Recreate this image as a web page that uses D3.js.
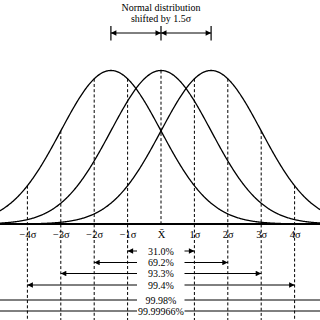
<!DOCTYPE html>
<html>
<head>
<meta charset="utf-8">
<script src="https://cdn.jsdelivr.net/npm/d3@7"></script>
<style>
html,body{margin:0;padding:0;background:#fff;}
svg{display:block;}
text{font-family:"Liberation Serif","DejaVu Serif",serif;fill:#000;}
</style>
</head>
<body>
<svg id="chart" width="320" height="320"></svg>
<script>
// ---- data ----
const means = [-1.5, 0, 1.5];          // centres of the three distributions (in σ)
const curveSigma = 1.5;                  // spread of each drawn curve (in σ units of the axis)
const tickValues = [-4, -3, -2, -1, 0, 1, 2, 3, 4];
const tickLabels = ["\u22124\u03c3", "\u22123\u03c3", "\u22122\u03c3", "\u22121\u03c3", "X\u0304", "1\u03c3", "2\u03c3", "3\u03c3", "4\u03c3"];
const spanHalfWidths = [1, 2, 3, 4, 5, 6];
const spanLabels = ["31.0%", "69.2%", "93.3%", "99.4%", "99.98%", "99.99966%"];
const shiftArrows = [[-1.5, 0], [0, 1.5]];
const titleLines = ["Normal distribution", "shifted by 1.5\u03c3"];

// ---- layout ----
const W = 320, H = 320;
const svg = d3.select("#chart");
const x = d3.scaleLinear().domain([-4, 4]).range([27.4, 294.6]);
const y = d3.scaleLinear().domain([0, 1]).range([224, 70.5]);
const dens = (v, m) => Math.exp(-((v - m) * (v - m)) / (2 * curveSigma * curveSigma));
const xMin = x.invert(-2), xMax = x.invert(W + 2);

const defs = svg.append("defs");
defs.append("marker").attr("id", "ah").attr("viewBox", "0 0 10 10")
  .attr("refX", 10).attr("refY", 5).attr("markerWidth", 6.5).attr("markerHeight", 5.5)
  .attr("markerUnits", "userSpaceOnUse").attr("orient", "auto")
  .append("path").attr("d", "M0,0L10,5L0,10Z").attr("fill", "#000");
defs.append("marker").attr("id", "ahs").attr("viewBox", "0 0 10 10")
  .attr("refX", 0).attr("refY", 5).attr("markerWidth", 6.5).attr("markerHeight", 5.5)
  .attr("markerUnits", "userSpaceOnUse").attr("orient", "auto")
  .append("path").attr("d", "M10,0L0,5L10,10Z").attr("fill", "#000");

// curves
const line = d3.line().x(d => x(d[0])).y(d => y(d[1])).curve(d3.curveLinear);
means.forEach(m => {
  const pts = d3.range(xMin, xMax, 0.02).map(v => [v, dens(v, m)]);
  pts.push([xMax, dens(xMax, m)]);
  svg.append("path").attr("d", line(pts)).attr("fill", "none")
    .attr("stroke", "#000").attr("stroke-width", 1.3);
});

// baseline
svg.append("line").attr("x1", 0).attr("x2", W).attr("y1", y(0)).attr("y2", y(0))
  .attr("stroke", "#000").attr("stroke-width", 1.8);

// dashed verticals
tickValues.forEach(v => {
  let top, bottom;
  if (v === 0) { top = y(dens(0, 0)); bottom = y(0); }
  else {
    const m = v < 0 ? means[0] : means[2];
    top = y(dens(v, m)); bottom = H;
  }
  svg.append("line").attr("x1", x(v)).attr("x2", x(v)).attr("y1", top).attr("y2", bottom)
    .attr("stroke", "#000").attr("stroke-width", 1).attr("stroke-dasharray", "3,2.2");
});

// tick labels (axis)
const axis = d3.axisBottom(x).tickValues(tickValues).tickSize(0).tickPadding(0)
  .tickFormat((d, i) => tickLabels[i]);
const ag = svg.append("g").attr("transform", `translate(0,${y(0)})`).call(axis);
ag.select(".domain").remove();
ag.selectAll("text").attr("dy", null).attr("y", 13.5)
  .style("font-family", "'Liberation Serif',serif").style("font-size", "10.5px").attr("fill", "#000");

// title
svg.selectAll("text.title").data(titleLines).join("text").attr("class", "title")
  .attr("x", x(0)).attr("y", (d, i) => 10.5 + i * 11).attr("text-anchor", "middle")
  .style("font-size", "10px").text(d => d);

// shift arrows
const ay = 33;
[-1.5, 0, 1.5].forEach(v => {
  svg.append("line").attr("x1", x(v)).attr("x2", x(v)).attr("y1", 26).attr("y2", 40.5)
    .attr("stroke", "#000").attr("stroke-width", 1.2);
});
shiftArrows.forEach(([a, b]) => {
  svg.append("line").attr("x1", x(a)).attr("x2", x(b)).attr("y1", ay).attr("y2", ay)
    .attr("stroke", "#000").attr("stroke-width", 1)
    .attr("marker-start", "url(#ahs)").attr("marker-end", "url(#ah)");
});

// percentage spans
const rowYs = [251, 262.5, 273.5, 285, 300, 311];
const gapL = 137, gapR = 184.5;
spanLabels.forEach((lab, i) => {
  const yy = rowYs[i];
  const hw = spanHalfWidths[i];
  svg.append("line").attr("x1", gapL).attr("x2", x(-hw)).attr("y1", yy).attr("y2", yy)
    .attr("stroke", "#000").attr("stroke-width", 1).attr("marker-end", "url(#ah)");
  svg.append("line").attr("x1", gapR).attr("x2", x(hw)).attr("y1", yy).attr("y2", yy)
    .attr("stroke", "#000").attr("stroke-width", 1).attr("marker-end", "url(#ah)");
  svg.append("text").attr("x", x(0)).attr("y", yy + 3.6).attr("text-anchor", "middle")
    .style("font-size", "10px").text(lab);
});
</script>
</body>
</html>
